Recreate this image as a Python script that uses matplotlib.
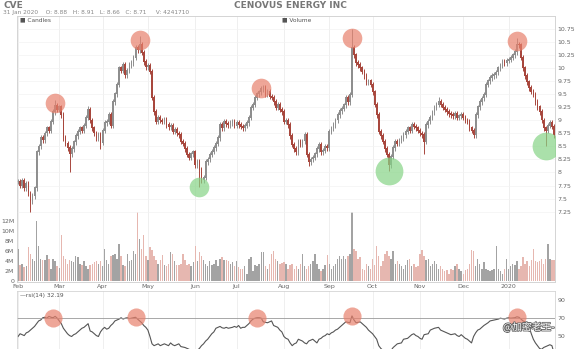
import numpy as np
import pandas as pd
import matplotlib
matplotlib.use('Agg')
import matplotlib.pyplot as plt
import matplotlib.patheffects as pe

dates = pd.bdate_range('2019-02-01', '2020-01-31')

closes = [
    7.82, 7.75, 7.85, 7.70, 7.78, 7.60, 7.45, 7.55, 7.70, 8.39,
    8.50, 8.66, 8.62, 8.75, 8.85, 8.80, 8.97, 9.16, 9.28, 9.20,
    9.25, 9.10, 8.66, 8.55, 8.47, 8.35, 8.45, 8.58, 8.70, 8.78,
    8.85, 8.80, 8.90, 9.05, 9.20, 9.00, 8.85, 8.75, 8.66, 8.72,
    8.57, 8.80, 8.95, 8.97, 9.10, 8.90, 9.35, 9.50, 9.68, 10.00,
    9.95, 10.06, 9.87, 9.95, 10.06, 10.10, 10.20, 10.40, 10.35, 10.45,
    10.30, 10.12, 10.02, 10.05, 9.93, 9.43, 9.16, 8.97, 9.05, 9.00,
    8.97, 9.02, 8.91, 8.87, 8.90, 8.78, 8.82, 8.75, 8.72, 8.59,
    8.55, 8.45, 8.34, 8.28, 8.35, 8.39, 8.14, 8.20, 8.05, 7.85,
    7.90, 8.20, 8.25, 8.34, 8.40, 8.47, 8.55, 8.66, 8.91, 8.85,
    8.97, 8.93, 8.91, 8.95, 8.97, 8.90, 8.95, 8.91, 8.88, 8.85,
    8.90, 8.95, 9.05, 9.24, 9.30, 9.43, 9.50, 9.54, 9.60, 9.62,
    9.49, 9.55, 9.45, 9.43, 9.35, 9.24, 9.30, 9.20, 9.16, 8.97,
    9.00, 8.91, 8.70, 8.53, 8.45, 8.39, 8.59, 8.53, 8.60, 8.72,
    8.34, 8.20, 8.25, 8.28, 8.35, 8.45, 8.53, 8.39, 8.42, 8.50,
    8.47, 8.78, 8.85, 8.91, 9.00, 9.10, 9.18, 9.22, 9.29, 9.43,
    9.35, 9.49, 10.40, 10.25, 10.10, 10.06, 10.00, 9.93, 9.85, 9.73,
    9.75, 9.68, 9.54, 9.30, 9.10, 8.78, 8.70, 8.59, 8.45, 8.34,
    8.14, 8.30, 8.47, 8.59, 8.55, 8.62, 8.66, 8.72, 8.78, 8.85,
    8.80, 8.91, 8.88, 8.85, 8.80, 8.75, 8.72, 8.59, 8.91, 8.98,
    9.05, 9.15, 9.24, 9.30, 9.35, 9.30, 9.24, 9.20, 9.16, 9.12,
    9.10, 9.08, 9.12, 9.05, 9.08, 9.10, 9.05, 9.00, 8.97, 8.85,
    8.80, 8.72, 9.10, 9.25, 9.35, 9.42, 9.49, 9.68, 9.75, 9.81,
    9.85, 9.87, 9.92, 10.00, 10.05, 10.12, 10.10, 10.14, 10.16, 10.20,
    10.25, 10.31, 10.45, 10.44, 10.20, 10.00, 9.85, 9.73, 9.62, 9.55,
    9.49, 9.35, 9.25, 9.16, 9.00, 8.85, 8.80, 8.90, 8.95, 8.88,
    8.71,
]

# volume in millions
volumes = [
    6.5, 3.2, 3.5, 2.8, 3.0, 6.8, 5.5, 4.5, 4.0, 12.0,
    7.0, 4.5, 4.3, 4.3, 5.2, 4.5, 2.5, 4.5, 4.0, 3.0,
    2.6, 9.2, 5.0, 4.5, 3.5, 4.2, 4.0, 3.8, 5.0, 4.8,
    3.5, 3.2, 4.0, 3.0, 2.5, 3.2, 3.5, 3.8, 4.0, 3.5,
    4.0, 3.0, 6.5, 4.3, 3.5, 5.0, 5.2, 5.5, 4.5, 7.5,
    5.0, 3.2, 3.0, 5.5, 4.0, 4.3, 6.0, 5.5, 13.8, 8.5,
    6.5, 9.2, 5.0, 4.3, 6.8, 6.3, 5.0, 4.3, 3.5, 4.3,
    5.3, 3.2, 3.0, 3.5, 5.8, 5.5, 4.0, 3.2, 3.3, 3.5,
    5.5, 4.2, 3.2, 3.5, 3.0, 3.8, 7.0, 4.0, 5.8, 5.0,
    4.2, 3.5, 3.0, 4.0, 3.2, 3.5, 4.3, 3.0, 4.5, 4.8,
    4.2, 4.3, 4.0, 3.5, 3.8, 3.0, 4.0, 2.8, 2.5, 2.5,
    3.0, 1.5, 4.5, 4.8, 2.0, 3.2, 3.0, 3.5, 5.8, 5.8,
    3.0, 2.5, 3.5, 5.5, 6.0, 4.5, 4.0, 3.5, 3.7, 3.8,
    3.5, 2.5, 3.2, 3.5, 2.5, 3.0, 2.5, 3.5, 5.5, 3.0,
    2.5, 3.0, 3.5, 4.0, 5.5, 3.5, 2.5, 2.0, 2.5, 3.2,
    5.2, 3.5, 2.5, 3.0, 3.5, 4.5, 5.0, 4.5, 5.0, 4.5,
    5.0, 5.5, 13.8, 6.5, 6.0, 4.5, 4.8, 2.5, 2.2, 3.5,
    3.0, 2.5, 4.5, 3.2, 7.0, 5.0, 3.0, 4.0, 5.5, 6.0,
    5.0, 4.5, 6.0, 3.5, 4.0, 3.5, 3.0, 2.5, 3.2, 4.3,
    4.5, 3.0, 3.5, 2.8, 3.0, 5.5, 6.2, 5.0, 4.2, 4.5,
    3.0, 3.5, 4.0, 3.5, 2.5, 3.0, 2.5, 2.0, 2.2, 1.5,
    2.5, 2.2, 3.0, 3.5, 2.5, 2.0, 1.5, 2.2, 2.5, 3.5,
    6.2, 6.0, 3.0, 4.5, 3.5, 2.5, 3.8, 2.5, 2.3, 2.0,
    2.2, 2.5, 7.0, 2.5, 2.0, 1.5, 2.5, 4.5, 2.5, 3.0,
    3.5, 3.2, 4.0, 2.5, 3.0, 4.8, 3.5, 4.0, 3.0, 4.2,
    6.5, 4.0, 3.8, 4.0, 4.5, 3.5, 4.5, 7.5, 4.5, 4.2,
    4.24,
]

rsi = [
    50, 53, 52, 51, 54, 55, 57, 59, 61, 64,
    67, 68, 70.5, 71, 70, 72, 71, 70.5, 72, 70,
    67, 64, 59, 56, 53, 51, 50, 52, 53, 55,
    57, 59, 60, 62, 64, 56, 55, 53, 51, 50,
    55, 58, 60, 58, 59, 62, 64, 67, 68, 69,
    70.5, 69, 70, 70.5, 69.5, 70, 70.5, 71, 69, 67,
    65, 62, 60, 57, 50, 42, 40, 41, 42, 40,
    41, 42, 41, 40, 43, 41, 40, 41, 42, 39,
    38.5, 38, 37, 36, 34, 33, 34, 35, 37, 40,
    42, 45, 47, 50, 53, 55, 59, 60, 61, 59.5,
    59, 60, 59, 59.5, 60, 61, 60, 62, 59, 60,
    60, 62, 64, 67, 69, 70, 70.5, 70.5, 70, 66,
    65.5, 65, 66, 67, 62, 61, 60, 57, 55, 50,
    48, 47, 43, 40, 42, 43, 47, 46, 45, 43,
    42, 45, 46, 47, 45, 43, 47, 48, 50, 51,
    53, 52, 54, 55, 57, 58, 60, 62, 64, 66,
    65.5, 65, 72.5, 68, 65, 65.5, 66, 64, 62, 60,
    57, 55, 53, 50, 47, 40, 37, 35, 34, 33,
    33, 35, 38, 40, 42, 42.5, 43, 47, 47.5, 48,
    50, 52, 53, 51, 50, 48, 47, 52, 52.5, 53,
    57, 58, 59, 59.5, 60, 57, 56, 55, 54, 53,
    52, 52.5, 53, 51, 50, 52, 50, 48, 47, 45,
    43, 50, 54, 57, 58, 60, 62, 63.5, 65, 67,
    67.5, 68, 68.5, 69, 70, 69.5, 69, 70, 70.5, 70,
    70.2, 70.5, 71.5, 71, 69, 67, 66, 63, 60, 53,
    47, 43, 40, 37, 36, 38, 39, 40, 41, 40,
    32.19,
]

extra_high = {18: 9.38, 34: 9.28, 59: 10.62, 162: 10.75, 204: 9.45, 242: 10.58}
extra_low = {6: 7.25, 25: 8.0, 40: 8.45, 88: 7.72, 141: 8.12, 180: 8.02, 197: 8.35, 256: 8.50}
peaks = [18, 59, 118, 162, 242]
troughs = [88, 180, 256]
rsi_peaks = [17, 57, 116, 162, 242]

closes = np.array(closes)
volumes = np.array(volumes) * 1e6
rsi = np.array(rsi)
x = np.arange(len(closes))
opens = np.r_[closes[0], closes[:-1]]
highs = np.maximum(opens, closes) + 0.05
lows = np.minimum(opens, closes) - 0.05
for i, v in extra_high.items():
    highs[i] = v
for i, v in extra_low.items():
    lows[i] = v
up = closes >= opens

up_col = '#8e8e8e'
down_col = '#a8473d'
grid_col = '#ececec'
spine_col = '#d4d4d4'
txt_col = '#666666'

fig = plt.figure(figsize=(5.76, 3.49), dpi=100)
ax_v = fig.add_axes([17/576, 1 - 282/349, 538/576, 266/349])
ax_p = ax_v.twinx()
ax_r = fig.add_axes([17/576, 1 - 382.3/349, 538/576, 91.6/349])

# volume
ax_v.bar(x[up], volumes[up], width=0.7, color='#a3a3a3', linewidth=0)
ax_v.bar(x[~up], volumes[~up], width=0.7, color='#e6b7b0', linewidth=0)
ax_v.set_ylim(-0.2e6, 53e6)
vt = [0, 2e6, 4e6, 6e6, 8e6, 10e6, 12e6]
ax_v.set_yticks(vt)
ax_v.set_yticklabels(['0'] + ['%dM' % (v / 1e6) for v in vt[1:]])

# candles
colors = np.where(up, up_col, down_col)
ax_p.vlines(x, lows, highs, colors=colors, linewidth=0.7)
ax_p.bar(x, np.abs(closes - opens) + 0.015, bottom=np.minimum(opens, closes),
         width=0.8, color=colors, linewidth=0)
ax_p.set_ylim(5.9, 11.0)
pt = np.arange(7.25, 10.76, 0.25)
ax_p.set_yticks(pt)
ax_p.set_yticklabels(['%g' % v for v in pt])

pk_y = (highs[peaks] + closes[peaks]) / 2
ax_p.scatter(peaks, pk_y, s=200, color='#e8806c', alpha=0.7, linewidths=0, zorder=5)
ax_p.scatter(troughs[:1], lows[troughs[:1]], s=200, color='#86d486', alpha=0.7, linewidths=0, zorder=5)
ax_p.scatter(troughs[1:], lows[troughs[1:]], s=400, color='#86d486', alpha=0.7, linewidths=0, zorder=5)

# month ticks
mstart = [i for i in range(len(dates)) if i == 0 or dates[i].month != dates[i - 1].month]
mlab = [dates[i].strftime('%b') if dates[i].year == 2019 else '2020' for i in mstart]
for a in (ax_v, ax_r):
    a.set_xlim(-0.5, len(x) - 0.5)
    a.set_xticks(mstart)
    for m in mstart:
        a.axvline(m, color=grid_col, linewidth=0.6, zorder=0)
ax_v.set_xticklabels(mlab)
ax_r.set_xticklabels([])
for v in pt:
    ax_p.axhline(v, color='#f3f3f3', linewidth=0.5, zorder=0)

# rsi
ax_r.plot(x, rsi, color='#555555', linewidth=0.8)
ax_r.axhline(70, color='#999999', linewidth=0.6)
ax_r.set_ylim(0, 100)
ax_r.yaxis.tick_right()
ax_r.set_yticks([50, 70, 90])
ax_r.scatter(rsi_peaks, rsi[rsi_peaks], s=170, color='#e8806c', alpha=0.7, linewidths=0, zorder=5)

for a in (ax_v, ax_p, ax_r):
    for s in a.spines.values():
        s.set_color(spine_col)
        s.set_linewidth(0.6)
    a.tick_params(length=0, labelsize=4.5, labelcolor=txt_col, pad=2)
ax_v.tick_params(axis='x', pad=1.5)

# header
fig.text(3/576, 1 - 5.5/349, 'CVE', fontsize=6.5, fontweight='bold', color='#777777', va='center')
fig.text(290/576, 1 - 5/349, 'CENOVUS ENERGY INC', fontsize=6.5, fontweight='bold',
         color='#777777', va='center', ha='center')
fig.text(3/576, 1 - 12.5/349, '31 Jan 2020    O: 8.88   H: 8.91   L: 8.66   C: 8.71     V: 4241710',
         fontsize=4.2, color='#888888', va='center')
fig.text(20/576, 1 - 20/349, '\u25a0 Candles', fontsize=4.2, color='#555555', va='center')
fig.text(282/576, 1 - 20/349, '\u25a0 Volume', fontsize=4.2, color='#555555', va='center')
fig.text(20/576, 1 - 296/349, '\u2014rsi(14) 32.19', fontsize=4.2, color='#555555', va='center')

wm = fig.text(503/576, 1 - 327/349, '@加密老王-', fontsize=7, color='white', va='center',
              family=['Noto Sans CJK SC', 'DejaVu Sans'])
wm.set_path_effects([pe.withStroke(linewidth=1.2, foreground='#666666')])

fig.savefig('out.png', dpi=100)
